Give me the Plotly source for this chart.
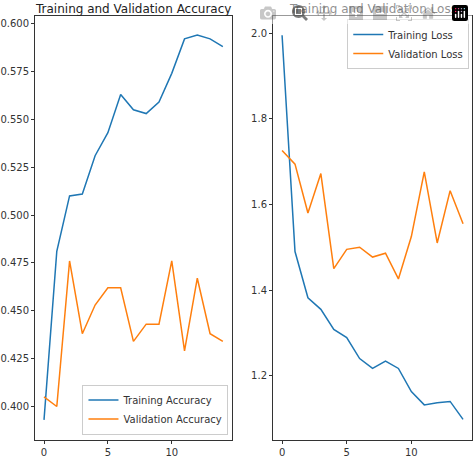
import plotly.graph_objects as go
from plotly.subplots import make_subplots

epochs = list(range(15))
train_acc = [0.393, 0.481, 0.510, 0.511, 0.531, 0.543, 0.563, 0.555, 0.553, 0.559,
             0.574, 0.592, 0.594, 0.592, 0.588]
val_acc = [0.405, 0.400, 0.476, 0.438, 0.453, 0.462, 0.462, 0.434, 0.443, 0.443,
           0.476, 0.429, 0.467, 0.438, 0.434]
train_loss = [1.995, 1.49, 1.382, 1.355, 1.308, 1.289, 1.24, 1.217, 1.234, 1.217,
              1.163, 1.132, 1.137, 1.14, 1.098]
val_loss = [1.726, 1.694, 1.58, 1.672, 1.45, 1.495, 1.50, 1.477, 1.486, 1.426,
            1.525, 1.676, 1.51, 1.632, 1.555]

BLUE = "#1f77b4"
ORANGE = "#ff7f0e"

fig = make_subplots(rows=1, cols=2)
fig.add_trace(go.Scatter(x=epochs, y=train_acc, mode="lines", name="Training Accuracy",
                         line=dict(color=BLUE, width=1.5), legend="legend"), row=1, col=1)
fig.add_trace(go.Scatter(x=epochs, y=val_acc, mode="lines", name="Validation Accuracy",
                         line=dict(color=ORANGE, width=1.5), legend="legend"), row=1, col=1)
fig.add_trace(go.Scatter(x=epochs, y=train_loss, mode="lines", name="Training Loss",
                         line=dict(color=BLUE, width=1.5), legend="legend2"), row=1, col=2)
fig.add_trace(go.Scatter(x=epochs, y=val_loss, mode="lines", name="Validation Loss",
                         line=dict(color=ORANGE, width=1.5), legend="legend2"), row=1, col=2)

axis_style = dict(showline=True, linecolor="#333", mirror=True, showgrid=False,
                  zeroline=False, ticks="outside", ticklen=3, tickcolor="#333",
                  tickfont=dict(size=10, color="#333"))
fig.update_xaxes(range=[-0.7, 14.7], tickvals=[0, 5, 10], **axis_style)
fig.update_xaxes(domain=[0.074, 0.489], row=1, col=1)
fig.update_xaxes(domain=[0.576, 0.996], row=1, col=2)
fig.update_yaxes(domain=[0.033, 0.965], **axis_style)
fig.update_yaxes(range=[0.3825, 0.604], tickvals=[0.4, 0.425, 0.45, 0.475, 0.5, 0.525, 0.55, 0.575, 0.6],
                 tickformat=".3f", row=1, col=1)
fig.update_yaxes(range=[1.05, 2.04], tickvals=[1.2, 1.4, 1.6, 1.8, 2.0], tickformat=".1f", row=1, col=2)

legend_style = dict(bgcolor="rgba(255,255,255,0.8)", bordercolor="#ccc", borderwidth=1,
                    font=dict(size=10, color="#333"))
fig.update_layout(
    width=474, height=458,
    margin=dict(l=0, r=0, t=0, b=0),
    paper_bgcolor="white", plot_bgcolor="white",
    font=dict(family="DejaVu Sans", color="#333"),
    legend=dict(x=0.482, y=0.045, xanchor="right", yanchor="bottom", **legend_style),
    legend2=dict(x=0.99, y=0.958, xanchor="right", yanchor="top", **legend_style),
    annotations=[
        dict(text="Training and Validation Accuracy", x=0.2815, y=1.0, xref="paper", yref="paper",
             xanchor="center", yanchor="top", showarrow=False, font=dict(size=12, color="#222")),
        dict(text="Training and Validation Loss", x=0.786, y=1.0, xref="paper", yref="paper",
             xanchor="center", yanchor="top", showarrow=False, font=dict(size=12, color="#222")),
    ],
)

# drop the page's default body margin so the figure fits the window exactly
fig.write_html("out.html", post_script="document.body.style.margin='0';document.body.style.overflow='hidden';")
